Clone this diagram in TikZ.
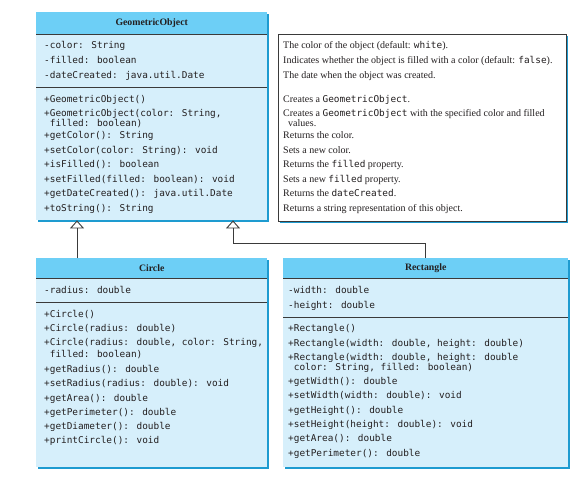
\documentclass[tikz,border=0pt]{standalone}
\usepackage{fontspec}
\setmainfont{Liberation Serif}
\newfontfamily\monof{DejaVu Sans Mono}
\usetikzlibrary{arrows.meta,shadows}
\definecolor{hdr}{HTML}{6DCFF6}
\definecolor{bodyc}{HTML}{D6EFFB}
\definecolor{shad}{HTML}{1E9BD0}
\definecolor{sepc}{HTML}{3A3A3A}
\definecolor{txt}{HTML}{231F20}
\newcommand{\dm}[1]{{\monof\fontsize{9.4}{11}\selectfont #1}}
\tikzset{
  umlbody/.style={fill=bodyc, draw=none, inner sep=0pt, anchor=north west,
    general shadow={fill=shad, shadow xshift=1.4pt, shadow yshift=-1.4pt}},
  hdrbox/.style={fill=hdr, draw=none, inner sep=0pt, anchor=north west,
    font=\fontsize{9.8}{11}\selectfont\bfseries, text=txt},
  descbox/.style={fill=white, draw=sepc, line width=0.9pt, inner sep=0pt, anchor=north west,
    general shadow={fill=shad, shadow xshift=1.4pt, shadow yshift=-1.4pt}},
  sepline/.style={draw=sepc, line width=0.9pt},
  mono/.style={anchor=base west, inner sep=0pt, text=txt, font=\monof\fontsize{9.4}{11}\selectfont},
  dtxt/.style={anchor=base west, inner sep=0pt, text=txt, font=\fontsize{10}{12}\selectfont},
  inh/.style={draw=sepc, line width=0.9pt, -{Triangle[open, width=14pt, length=8pt, fill=white]}}
}
\begin{document}
\begin{tikzpicture}[x=1pt,y=-1pt]
\useasboundingbox (0,0) rectangle (581,479);
% ---------- GeometricObject ----------
\node[umlbody, minimum width=231pt, minimum height=208pt] (geo) at (36,12) {};
\node[hdrbox, minimum width=231pt, minimum height=22pt] (geoh) at (36,12) {GeometricObject};
\draw[sepline] (geoh.south west) -- (geoh.south east);
\draw[sepline] (geo.west |- 0,87) -- (geo.east |- 0,87);
\node[mono] (g1) at (44,48.5) {-color: String};
\node[mono] (g2) at (44,63.5) {-filled: boolean};
\node[mono] (g3) at (44,78) {-dateCreated: java.util.Date};
\node[mono] (g4) at (44,102) {+GeometricObject()};
\node[mono] (g5) at (44,116.5) {+GeometricObject(color: String,};
\node[mono] (g6) at (49.7,126.5) {filled: boolean)};
\node[mono] (g7) at (44,138.5) {+getColor(): String};
\node[mono] (g8) at (44,153) {+setColor(color: String): void};
\node[mono] (g9) at (44,167.5) {+isFilled(): boolean};
\node[mono] (g10) at (44,182) {+setFilled(filled: boolean): void};
\node[mono] (g11) at (44,196.5) {+getDateCreated(): java.util.Date};
\node[mono] (g12) at (44,211) {+toString(): String};
% ---------- description ----------
\node[descbox, minimum width=288pt, minimum height=187pt] (desc) at (278,34) {};
\node[dtxt] (d1) at (283,48.5) {The color of the object (default: \dm{white}).};
\node[dtxt] (d2) at (283,63.5) {Indicates whether the object is filled with a color (default: \dm{false}).};
\node[dtxt] (d3) at (283,78) {The date when the object was created.};
\node[dtxt] (d4) at (283,102) {Creates a \dm{GeometricObject}.};
\node[dtxt] (d5) at (283,116.5) {Creates a \dm{GeometricObject} with the specified color and filled};
\node[dtxt] (d6) at (288,126.5) {values.};
\node[dtxt] (d7) at (283,138.5) {Returns the color.};
\node[dtxt] (d8) at (283,153) {Sets a new color.};
\node[dtxt] (d9) at (283,167.5) {Returns the \dm{filled} property.};
\node[dtxt] (d10) at (283,182) {Sets a new \dm{filled} property.};
\node[dtxt] (d11) at (283,196.5) {Returns the \dm{dateCreated}.};
\node[dtxt] (d12) at (283,211) {Returns a string representation of this object.};
% ---------- Circle ----------
\node[umlbody, minimum width=231pt, minimum height=209pt] (circ) at (36,258) {};
\node[hdrbox, minimum width=231pt, minimum height=20pt] (circh) at (36,258) {Circle};
\draw[sepline] (circh.south west) -- (circh.south east);
\draw[sepline] (circ.west |- 0,302) -- (circ.east |- 0,302);
\node[mono] (c1) at (44,293.5) {-radius: double};
\node[mono] (c2) at (44,317.5) {+Circle()};
\node[mono] (c3) at (44,331) {+Circle(radius: double)};
\node[mono] (c4) at (44,345.5) {+Circle(radius: double, color: String,};
\node[mono] (c5) at (49.7,357) {filled: boolean)};
\node[mono] (c6) at (44,372.5) {+getRadius(): double};
\node[mono] (c7) at (44,386.5) {+setRadius(radius: double): void};
\node[mono] (c8) at (44,401) {+getArea(): double};
\node[mono] (c9) at (44,415.5) {+getPerimeter(): double};
\node[mono] (c10) at (44,429.5) {+getDiameter(): double};
\node[mono] (c11) at (44,443.5) {+printCircle(): void};
% ---------- Rectangle ----------
\node[umlbody, minimum width=285pt, minimum height=209pt] (rect) at (283,258) {};
\node[hdrbox, minimum width=285pt, minimum height=20pt] (recth) at (283,258) {Rectangle};
\draw[sepline] (recth.south west) -- (recth.south east);
\draw[sepline] (rect.west |- 0,317) -- (rect.east |- 0,317);
\node[mono] (r1) at (288,293.5) {-width: double};
\node[mono] (r2) at (288,308) {-height: double};
\node[mono] (r3) at (288,331.5) {+Rectangle()};
\node[mono] (r4) at (288,346.5) {+Rectangle(width: double, height: double)};
\node[mono] (r5) at (288,360) {+Rectangle(width: double, height: double};
\node[mono] (r6) at (293.7,370) {color: String, filled: boolean)};
\node[mono] (r7) at (288,384) {+getWidth(): double};
\node[mono] (r8) at (288,398.5) {+setWidth(width: double): void};
\node[mono] (r9) at (288,413) {+getHeight(): double};
\node[mono] (r10) at (288,427.5) {+setHeight(height: double): void};
\node[mono] (r11) at (288,441.5) {+getArea(): double};
\node[mono] (r12) at (288,456) {+getPerimeter(): double};
% ---------- inheritance ----------
\draw[inh] ([xshift=41pt]circ.north west) -- ([xshift=41pt]geo.south west);
\draw[inh] (rect.north) |- ([xshift=197pt,yshift=-23pt]geo.south west) -- ([xshift=197pt]geo.south west);
\end{tikzpicture}
\end{document}
